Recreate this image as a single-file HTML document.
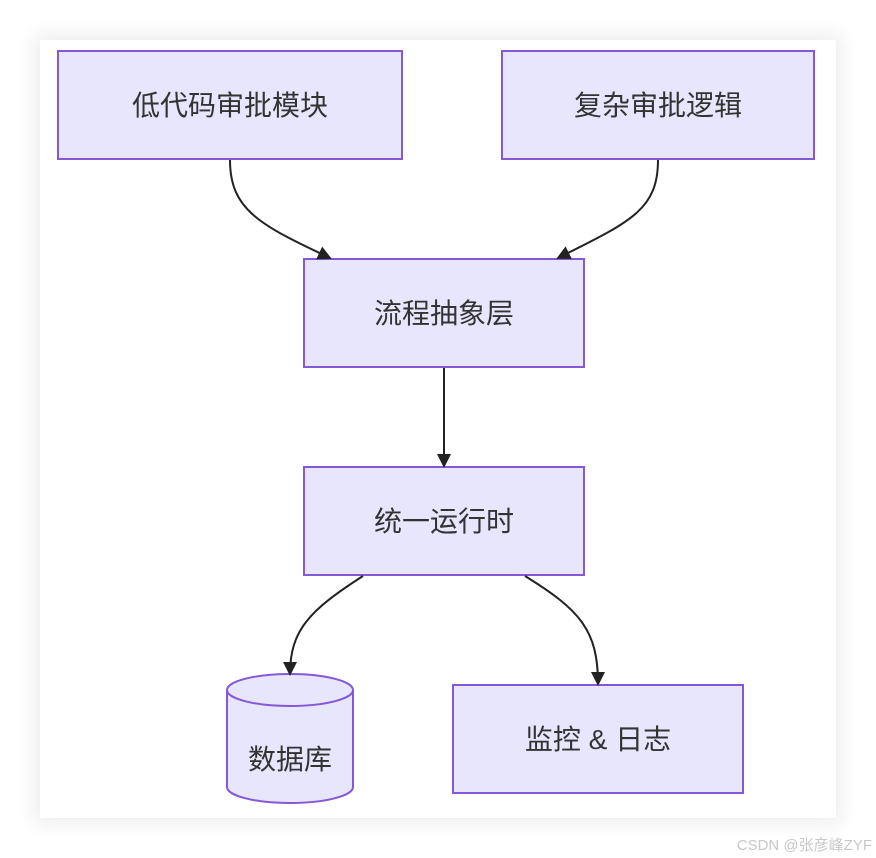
<!DOCTYPE html>
<html><head><meta charset="utf-8"><style>
html,body{margin:0;padding:0;background:#fff;width:876px;height:858px;overflow:hidden}
.card{position:absolute;left:40px;top:40px;width:796px;height:778px;background:#fff;box-shadow:0 0 18px 6px rgba(0,0,0,0.07)}
svg{position:absolute;left:0;top:0}
text{font-family:"Liberation Sans","Noto Sans CJK SC",sans-serif;font-size:28px;fill:#333}
</style></head><body>
<div class="card"></div>
<svg width="876" height="858" viewBox="0 0 876 858">
<defs><marker id="a" markerWidth="10" markerHeight="10" refX="8" refY="5" orient="auto" markerUnits="userSpaceOnUse" viewBox="0 0 10 10"><path d="M0,0 L10,5 L0,10 z" fill="#222"/></marker>
<marker id="b" markerWidth="14" markerHeight="14" refX="12" refY="7" orient="auto" markerUnits="userSpaceOnUse" viewBox="0 0 14 14"><path d="M0,0 L14,7 L0,14 z" fill="#222"/></marker></defs>
<g fill="#e8e6fd" stroke="#8458d6" stroke-width="2">
<rect x="58" y="51" width="344" height="108"/>
<rect x="502" y="51" width="312" height="108"/>
<rect x="304" y="259" width="280" height="108"/>
<rect x="304" y="467" width="280" height="108"/>
<rect x="453" y="685" width="290" height="108"/>
<path d="M227,690 v97 a63,16 0 0 0 126,0 v-97 a63,16 0 0 0 -126,0 a63,16 0 0 0 126,0"/>
</g>
<g fill="none" stroke="#222" stroke-width="2">
<path d="M230,160 C230,210 260,225 330,258" marker-end="url(#b)"/>
<path d="M658,160 C658,210 630,222 558,258" marker-end="url(#b)"/>
<path d="M444,368 V466" marker-end="url(#b)"/>
<path d="M363,576 C310,610 290,630 290,674" marker-end="url(#b)"/>
<path d="M525,576 C580,610 598,630 598,684" marker-end="url(#b)"/>
</g>
<g text-anchor="middle">
<text x="230" y="115">低代码审批模块</text>
<text x="658" y="115">复杂审批逻辑</text>
<text x="444" y="323">流程抽象层</text>
<text x="444" y="531">统一运行时</text>
<text x="290" y="769">数据库</text>
<text x="598" y="749">监控 &amp; 日志</text>
</g>
<text x="872" y="850" text-anchor="end" style="font-size:15px;fill:#c8c8c8">CSDN @张彦峰ZYF</text>
</svg>
</body></html>
